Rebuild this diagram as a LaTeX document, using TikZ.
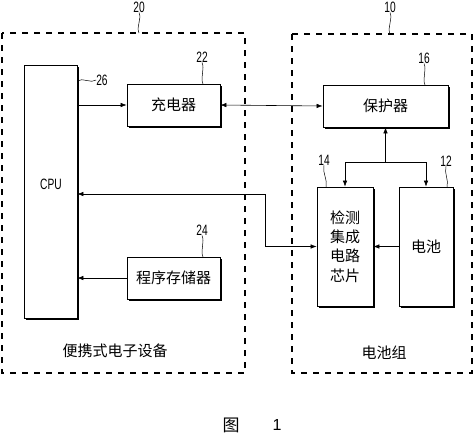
\documentclass[tikz,border=0pt]{standalone}
\usepackage{fontspec}
\setmainfont{Liberation Sans}
\newfontfamily\cjk{Noto Sans CJK SC}
\usetikzlibrary{arrows.meta,shadows}
\begin{document}
\begin{tikzpicture}[x=1pt,y=-1pt,
  blk/.style={draw, line width=0.8pt, fill=white, inner sep=0pt,
    font=\cjk\fontsize{15}{19.3}\selectfont, align=center,
    drop shadow={shadow xshift=1.8pt, shadow yshift=-1.8pt, fill=black, opacity=1}},
  grp/.style={draw, line width=2.3pt, dash pattern=on 6pt off 6pt},
  arr/.style={line width=0.6pt, -{Latex[length=6pt,width=4.5pt]}},
  darr/.style={line width=0.6pt, {Latex[length=6pt,width=4.5pt]}-{Latex[length=6pt,width=4.5pt]}},
  num/.style={font=\fontsize{15}{17}\selectfont, xscale=0.68, inner sep=0pt},
  lead/.style={line width=0.5pt},
  grpcap/.style={font=\cjk\fontsize{15}{18}\selectfont, inner sep=0pt}]
\useasboundingbox (0,0) rectangle (474,434);

% group boxes
\draw[grp] (2,33) rectangle (245,373);
\draw[grp] (292,34) rectangle (472,373);

% blocks
\node[blk, minimum width=53pt, minimum height=253pt] (cpu) at (50.5,191.5) {};
\node[num] (cputxt) at (51,184) {CPU};
\node[blk, minimum width=93pt, minimum height=42pt] (chg) at (173.5,105) {充电器};
\node[blk, minimum width=125pt, minimum height=42pt] (prot) at (385.5,106) {保护器};
\node[blk, minimum width=56pt, minimum height=119pt] (ic) at (345,246.5) {检测\\集成\\电路\\芯片};
\node[blk, minimum width=54pt, minimum height=119pt] (bat) at (426,246.5) {电池};
\node[blk, minimum width=93pt, minimum height=42pt] (mem) at (173.5,278) {程序存储器};

% connectors
\draw[arr] (cpu.east |- chg.west) -- (chg.west);
\draw[darr] (chg.east) -- (prot.west);
\coordinate (j) at (385.5,162);
\draw[arr] (j) -- (prot.south);
\draw[arr] (j) -| (ic.north);
\draw[arr] (j) -| (bat.north);
\draw[arr] (bat.west) -- (ic.east);
\coordinate (b) at (265,194);
\draw[darr] (ic.west) -| (b) -- (cpu.east |- b);
\draw[arr] (mem.west) -- (cpu.east |- mem.west);

% reference numerals with leaders
\node[num] (n20) at (139,7) {20};
\draw[lead] (n20.south) .. controls +(3,7) and +(-3,-7) .. (139,33);
\node[num] (n10) at (390,7) {10};
\draw[lead] (n10.south) .. controls +(3,7) and +(-3,-7) .. (390,34);
\node[num] (n22) at (202,57) {22};
\draw[lead] (n22.south) .. controls +(3,7) and +(-3,-7) .. (203,84);
\node[num] (n16) at (424,58) {16};
\draw[lead] (n16.south) .. controls +(3,7) and +(-3,-7) .. (425,85);
\node[num] (n24) at (202,230) {24};
\draw[lead] (n24.south) .. controls +(3,7) and +(-3,-7) .. (203,257);
\node[num] (n14) at (324,160) {14};
\draw[lead] (n14.south) .. controls +(-2,7) and +(2,-7) .. (326,187);
\node[num] (n12) at (446,161) {12};
\draw[lead] (n12.south) .. controls +(-2,7) and +(2,-7) .. (447,187);
\node[num] (n26) at (102,80) {26};
\draw[lead] (cpu.north east |- 0,81) .. controls +(5,-4) and +(-5,4) .. (n26.west);

% group captions
\node[grpcap] (g20) at (115,351) {便携式电子设备};
\node[grpcap] (g10) at (384,353) {电池组};

% figure caption
\node[font=\cjk\fontsize{17}{20}\selectfont, inner sep=0pt] (fig) at (231,425) {图};
\node[font=\fontsize{16}{18}\selectfont, inner sep=0pt] (fignum) at (277,425) {1};
\end{tikzpicture}
\end{document}
